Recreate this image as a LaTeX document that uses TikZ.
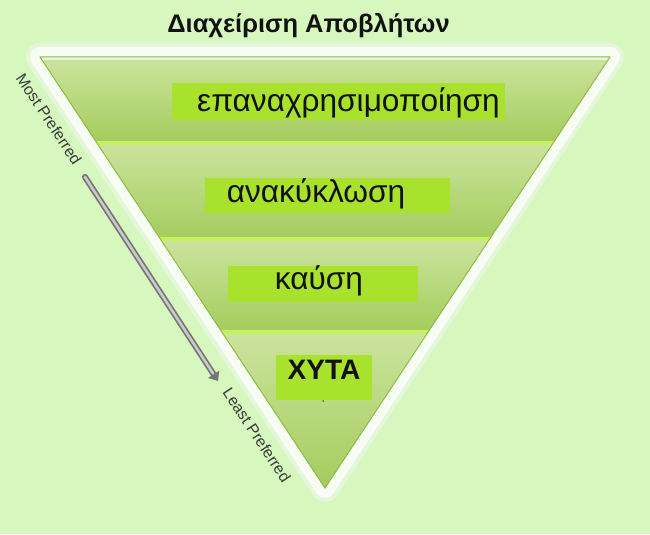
\documentclass[tikz,border=0pt]{standalone}
\usepackage{fontspec}
\setmainfont{Liberation Sans}
\usetikzlibrary{arrows.meta}
\definecolor{mybackground}{HTML}{D6F7BE}
\definecolor{myrim}{HTML}{E6F6DA}
\definecolor{myrimlight}{HTML}{F7FDF2}
\definecolor{mybandtop}{HTML}{CBE49E}
\definecolor{mybandbottom}{HTML}{A5CC5C}
\definecolor{myedge}{HTML}{8FBA48}
\definecolor{mydivider}{HTML}{C6EF62}
\definecolor{mybox}{HTML}{A8E22C}
\definecolor{myblack}{HTML}{111111}
\definecolor{mydarkgray}{HTML}{3A3A3A}
\definecolor{mygray}{HTML}{A9A9A9}

\tikzset{
  levelbox/.style={fill=mybox, draw=none, inner sep=0pt},
  leveltext/.style={anchor=base, text=myblack, inner sep=0pt, font=\fontsize{18}{20}\selectfont},
  sidetext/.style={text=mydarkgray, inner sep=0pt, rotate=-56.5, font=\fontsize{9}{10}\selectfont}
}

\begin{document}
\begin{tikzpicture}

% BACKGROUND
\fill[mybackground] (0,0) rectangle (13,10.68);
\useasboundingbox (0,0) rectangle (13,10.68);

% RIM
\draw[myrim, line width=0.56cm, line join=round] (0.8,9.54) -- (12.2,9.54) -- (6.5,0.92) -- cycle;
\draw[myrimlight, line width=0.40cm, line join=round] (0.8,9.54) -- (12.2,9.54) -- (6.5,0.92) -- cycle;

% BANDS
\begin{scope}
\clip (0.8,9.54) -- (12.2,9.54) -- (6.5,0.92) -- cycle;
\foreach \ytop/\ybot in {9.54/7.82, 7.82/5.90, 5.90/4.04, 4.04/0.92} {
  \shade[top color=mybandtop, bottom color=mybandbottom] (0.8,\ytop) rectangle (12.2,\ybot);
}
\foreach \y in {7.82,5.90,4.04} {
  \draw[mydivider, line width=0.07cm] (0.8,\y) -- (12.2,\y);
}
\draw[mybandtop!40!white, line width=0.06cm] (0.8,9.50) -- (12.2,9.50);
\end{scope}
\draw[myedge, line width=0.02cm, line join=round] (0.8,9.54) -- (12.2,9.54) -- (6.5,0.92) -- cycle;

% BOXES
\foreach \name/\x/\y/\w/\h in {reuse/6.77/8.65/6.66/0.74, recycle/6.55/6.77/4.90/0.70, burn/6.46/5.00/3.80/0.72, landfill/6.48/3.13/1.92/0.90} {
  \node[levelbox, minimum width=\w cm, minimum height=\h cm] (\name) at (\x,\y) {};
}

% LABELS
\node[leveltext] (reusetext) at (6.97,8.44) {επαναχρησιμοποίηση};
\node[leveltext] (recycletext) at (6.32,6.63) {ανακύκλωση};
\node[leveltext] (burntext) at (6.38,4.88) {καύση};
\node[leveltext, font=\fontsize{16}{18}\selectfont\bfseries] (landfilltext) at (6.48,3.10) {ΧΥΤΑ};
\fill[myblack] (6.46,2.66) circle [radius=0.015];

% TITLE
\node[anchor=base, inner sep=0pt, text=myblack, font=\fontsize{14.5}{16}\selectfont\bfseries] (title) at (6.17,10.02) {Διαχείριση Αποβλήτων};

% PREFERENCE ARROW
\node[sidetext] (mostpref) at (0.98,8.30) {Most Preferred};
\node[sidetext] (leastpref) at (5.14,1.98) {Least Preferred};
\coordinate (most) at (1.70,7.14);
\coordinate (least) at (4.36,3.06);
\draw[mygray!70!black, line width=0.12cm, line cap=round, -{Triangle[width=0.26cm, length=0.16cm]}] (most) -- (least);
\draw[mygray!60!white, line width=0.05cm, line cap=round, shorten >=0.18cm] (most) -- (least);

\end{tikzpicture}
\end{document}
